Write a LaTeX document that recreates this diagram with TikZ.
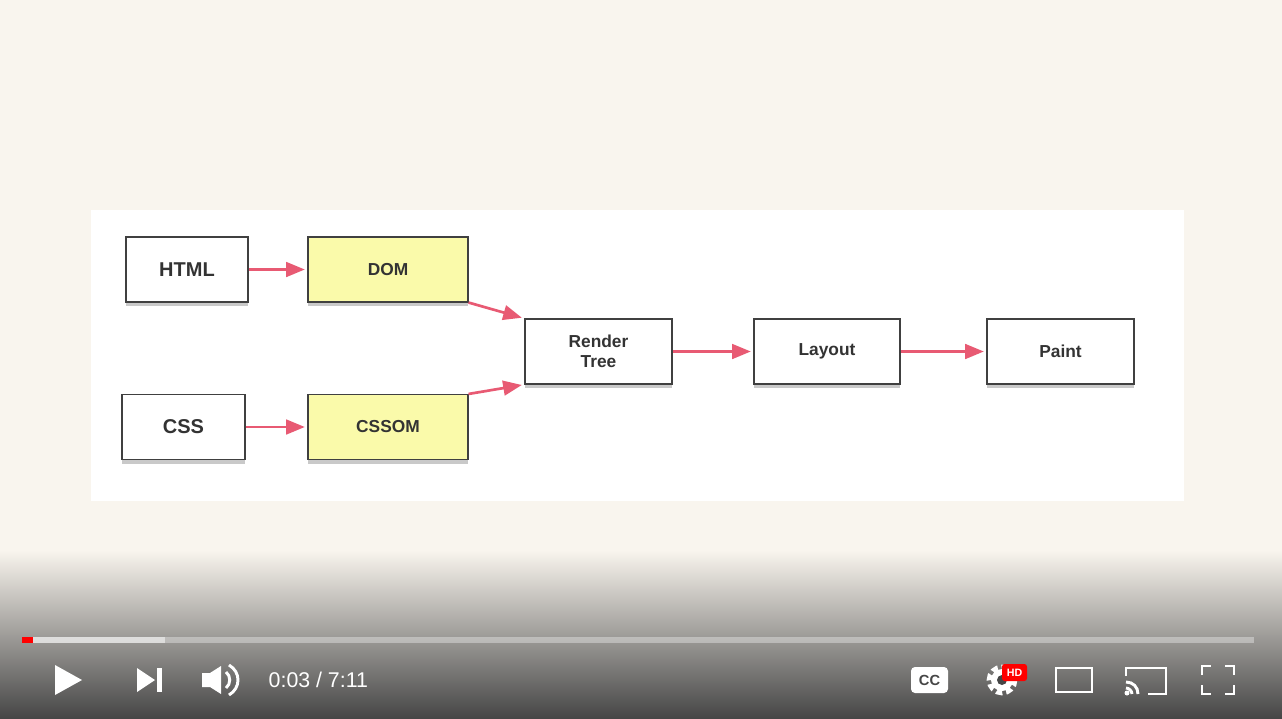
\documentclass[tikz,border=0pt]{standalone}
\usepackage{fontspec}
\setmainfont{Liberation Sans}
\usetikzlibrary{arrows.meta,shadows}
\definecolor{bg}{RGB}{249,245,238}
\definecolor{yel}{RGB}{250,250,170}
\definecolor{arr}{RGB}{232,90,115}
\definecolor{bar}{RGB}{70,70,70}
\tikzset{
 box/.style={draw=black!75,line width=0.8pt,fill=white,minimum width=#1*0.75pt,minimum height=48.75pt,inner sep=0pt,
   drop shadow={shadow xshift=0pt,shadow yshift=-3pt,opacity=0.35,fill=black!60},font=\bfseries\fontsize{13}{15}\selectfont,text=black!80,align=center},
 ybox/.style={box=#1,fill=yel},
 conn/.style={draw=arr,line width=2pt,shorten >=2pt,-{Triangle[length=14pt,width=11pt]}},
 icon/.style={white,line width=2.2pt}
}
\begin{document}
\begin{tikzpicture}[x=0.75pt,y=-0.75pt]
\useasboundingbox (0,0) rectangle (1282,718);
\fill[bg] (0,0) rectangle (1282,718);
\fill[white] (91,210) rectangle (1184,501);
\node[box=122,font=\bfseries\fontsize{15}{17}\selectfont] (html) at (187,269.5) {HTML};
\node[ybox=160] (dom) at (388,269.5) {DOM};
\node[box=123,font=\bfseries\fontsize{15}{17}\selectfont] (css) at (183.5,427) {CSS};
\node[ybox=160] (cssom) at (388,427) {CSSOM};
\node[box=147] (rt) at (598.5,351.5) {Render\\Tree};
\node[box=146] (lay) at (827,351.5) {Layout};
\node[box=147] (paint) at (1060.5,351.5) {Paint};
\draw[conn] (html) -- (dom);
\draw[conn] (css) -- (cssom);
\draw[conn] (dom.south east) -- (rt.north west);
\draw[conn] (cssom.north east) -- (rt.south west);
\draw[conn] (rt) -- (lay);
\draw[conn] (lay) -- (paint);
% player
\shade[top color=bg,bottom color=bar] (0,550) rectangle (1282,718);
\fill[white,opacity=0.35] (22,637) rectangle (1254,643);
\fill[white,opacity=0.5] (22,637) rectangle (165,643);
\fill[red] (22,637) rectangle (33,643);
\fill[white] (55,665) -- (82,680) -- (55,695) -- cycle;
\fill[white] (137,668) -- (155,680) -- (137,692) -- cycle;
\fill[white] (157,668) rectangle (162,692);
\fill[white] (202,673) -- (210,673) -- (221,666) -- (221,694) -- (210,687) -- (202,687) -- cycle;
\draw[icon] (226,672) .. controls (231,676) and (231,684) .. (226,688);
\draw[icon] (229,665) .. controls (241,672) and (241,688) .. (229,695);
\node[anchor=west,text=white,font=\fontsize{16}{18}\selectfont] (time) at (264,680) {0:03 / 7:11};
\fill[white,rounded corners=3pt] (911,667) rectangle (948,693);
\node[text=bar,font=\bfseries\fontsize{11}{12}\selectfont] (cc) at (929.5,680) {CC};
\draw[white,line width=5pt,dash pattern=on 4pt off 3pt] (1002,680) circle (12);
\fill[white] (1002,680) circle (11);
\fill[bar] (1002,680) circle (5);
\fill[red,rounded corners=2pt] (1002,664) rectangle (1027,681);
\node[white,font=\bfseries\fontsize{8}{9}\selectfont] (hd) at (1014.5,672.5) {HD};
\draw[icon] (1056,668) rectangle (1092,692);
\draw[icon] (1126,676) -- (1126,668) -- (1166,668) -- (1166,694) -- (1148,694);
\draw[icon] (1126,682) .. controls (1133,682) and (1138,687) .. (1138,694);
\draw[icon] (1126,688) .. controls (1129,688) and (1132,691) .. (1132,694);
\fill[white] (1127,693) circle (2.5);
\draw[icon] (1202,675) -- (1202,666) -- (1211,666);
\draw[icon] (1225,666) -- (1234,666) -- (1234,675);
\draw[icon] (1202,685) -- (1202,694) -- (1211,694);
\draw[icon] (1225,694) -- (1234,694) -- (1234,685);
\end{tikzpicture}
\end{document}
